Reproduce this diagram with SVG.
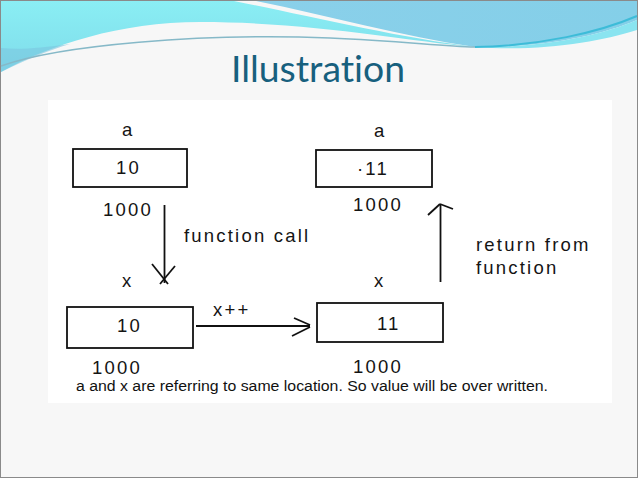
<svg xmlns="http://www.w3.org/2000/svg" width="638" height="478" viewBox="0 0 638 478">
<defs>
<linearGradient id="cy" x1="0" y1="0" x2="0" y2="1">
<stop offset="0" stop-color="#8aeef4"/>
<stop offset="1" stop-color="#7fdcea"/>
</linearGradient>
<linearGradient id="bl" x1="0" y1="0" x2="1" y2="0">
<stop offset="0" stop-color="#8ad0ea"/>
<stop offset="1" stop-color="#84cfe8"/>
</linearGradient>
</defs>
<style>
.t{font-family:"Liberation Sans",Arial,sans-serif;font-size:18.5px;letter-spacing:2.2px;fill:#141414}
.box{fill:#fff;stroke:#111;stroke-width:1.8}
.ln{stroke:#111;stroke-width:1.8;fill:none}
.cap{font-family:"Liberation Sans",Arial,sans-serif;font-size:15.5px;fill:#111}
</style>
<rect x="0.5" y="0.5" width="637" height="477" fill="#f7f7f7" stroke="#8a8a8a"/>
<g id="banner">
<path d="M1,1 H234 C300,14 400,38 475,47 C400,40 310,22 200,22 C120,22 50,45 1,72 Z" fill="url(#cy)"/>
<path d="M1,48 C1,55 1,62 1,72 C30,58 50,50 70,44 C40,48 20,50 1,48 Z" fill="#7cc6e0" opacity="0.6"/>
<path d="M256,1 H637 V20 C600,36 540,48 475,47 C400,36 330,16 256,1 Z" fill="url(#bl)"/>
<path d="M475,47 C540,48 600,36 637,20 V30 C600,42 540,52 475,47 Z" fill="#8ae4f0"/>
<path d="M1,66 C60,45 200,33 330,38 C400,41 440,46 475,47" fill="none" stroke="#86b9c8" stroke-width="1.5"/>
<path d="M475,47 C540,46 600,32 637,16" fill="none" stroke="#3dbcd8" stroke-width="2"/>
</g>
<text x="318" y="82" text-anchor="middle" font-family="Lato,'Open Sans',sans-serif" font-size="37" fill="#17607e" style="font-variant-ligatures:none" textLength="174" lengthAdjust="spacingAndGlyphs">Illustration</text>
<rect x="48" y="100" width="564" height="303" fill="#ffffff"/>
<g id="connectors">
<g id="call-arrow">
<line class="ln" x1="164.5" y1="205" x2="164.5" y2="283"/>
<line class="ln" x1="152" y1="264" x2="168" y2="284"/>
<line class="ln" x1="175" y1="266" x2="160" y2="284"/>
</g>
<g id="inc-arrow">
<line class="ln" x1="196" y1="326" x2="310" y2="326"/>
<line class="ln" x1="294" y1="318" x2="310" y2="325"/>
<line class="ln" x1="310" y1="327" x2="292" y2="336"/>
</g>
<g id="return-arrow">
<line class="ln" x1="440.5" y1="282" x2="440.5" y2="204"/>
<line class="ln" x1="428" y1="215" x2="440" y2="204"/>
<line class="ln" x1="440" y1="204" x2="453" y2="209"/>
</g>
<text class="t" x="184" y="242">function call</text>
<text class="t" x="213" y="316">x++</text>
<text class="t" x="476" y="251">return from</text>
<text class="t" x="476" y="274">function</text>
</g>
<g id="node-a-before">
<text class="t" x="122" y="136">a</text>
<rect class="box" x="73" y="149" width="114" height="38"/>
<text class="t" x="116" y="174">10</text>
<text class="t" x="103" y="216">1000</text>
</g>
<g id="node-a-after">
<text class="t" x="374" y="137">a</text>
<rect class="box" x="316" y="150" width="116" height="37"/>
<text class="t" x="357" y="175">·11</text>
<text class="t" x="353" y="211">1000</text>
</g>
<g id="node-x-before">
<text class="t" x="122" y="287">x</text>
<rect class="box" x="67" y="307" width="126" height="41"/>
<text class="t" x="117" y="332">10</text>
<text class="t" x="92" y="374">1000</text>
</g>
<g id="node-x-after">
<text class="t" x="374" y="287">x</text>
<rect class="box" x="317" y="303" width="126" height="39"/>
<text class="t" x="377" y="330">11</text>
<text class="t" x="353" y="373">1000</text>
</g>
<text class="cap" x="76" y="391" textLength="472" lengthAdjust="spacingAndGlyphs">a and x are referring to same location. So value will be over written.</text>
</svg>
